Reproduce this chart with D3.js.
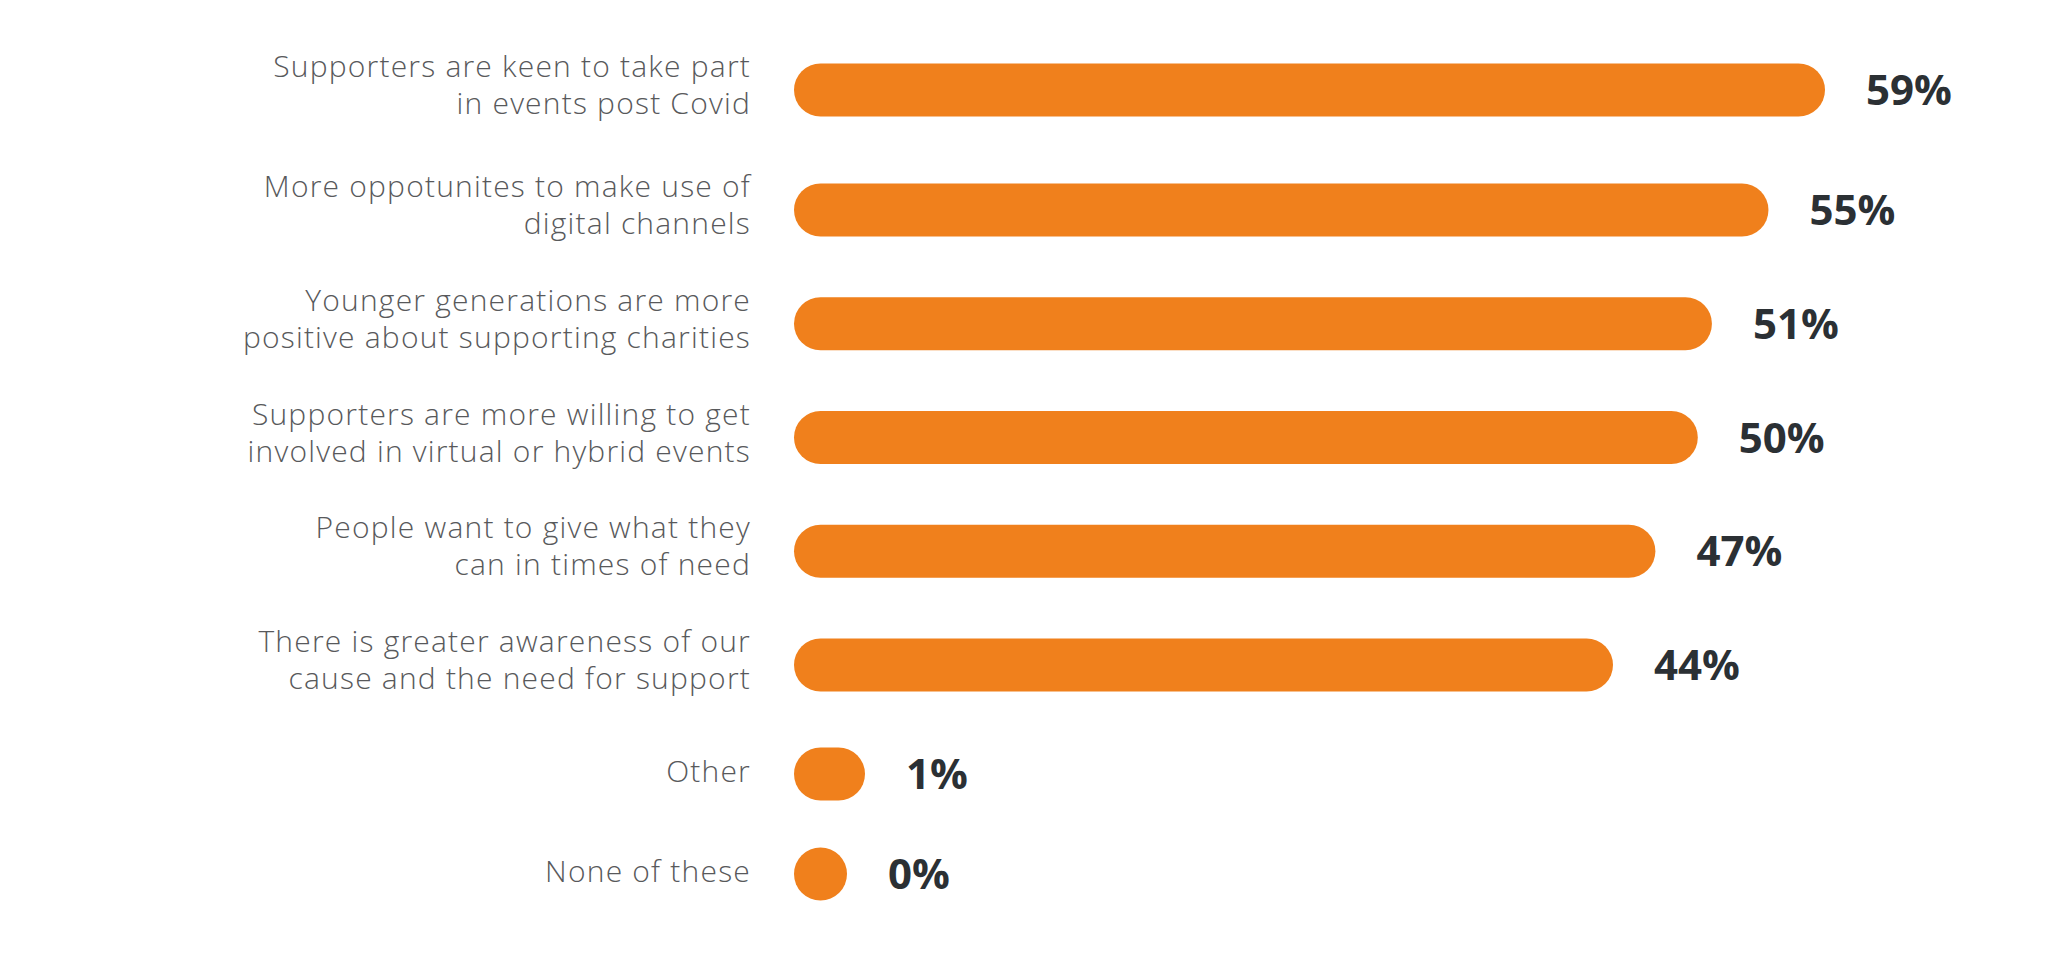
<!DOCTYPE html>
<html>
<head>
<meta charset="utf-8">
<script src="https://cdn.jsdelivr.net/npm/d3@7"></script>
<style>
  html, body { margin: 0; padding: 0; background: #fff; }
  svg { display: block; }
</style>
</head>
<body>
<div id="main"></div>
<script>
// chart data
const categories = [
    ['Supporters are keen to take part', 'in events post Covid'],
    ['More oppotunites to make use of', 'digital channels'],
    ['Younger generations are more', 'positive about supporting charities'],
    ['Supporters are more willing to get', 'involved in virtual or hybrid events'],
    ['People want to give what they', 'can in times of need'],
    ['There is greater awareness of our', 'cause and the need for support'],
    ['Other'],
    ['None of these']
]
const values = [59, 55, 51, 50, 47, 44, 1, 0]
const valueLabels = ['59%', '55%', '51%', '50%', '47%', '44%', '1%', '0%']

const width = 2048;
const height = 967;
const orange = '#f0801c';
const barH = 53;

const svg = d3.select('#main')
                .append('svg')
                .attr('width', width)
                .attr('height', height)

const idx = d3.range(values.length)

// rows are a bit tighter towards the bottom in the original
const y = d3.scaleLinear()
            .domain([0, 1, 5, 6, 7])
            .range([90, 210, 665, 774, 874])

// bar ends: the small bars are drawn as near-circles, so the scale bends near 0
const x = d3.scaleLinear()
            .domain([0, 1, 44, 59])
            .range([847, 865, 1613, 1825])
const xStart = 794;

svg.append('g')
    .selectAll('rect')
    .data(idx)
    .enter()
    .append('rect')
    .attr('x', xStart)
    .attr('y', (i) => y(i) - barH / 2)
    .attr('width', (i) => x(values[i]) - xStart)
    .attr('height', barH)
    .attr('rx', barH / 2)
    .attr('ry', barH / 2)
    .style('fill', orange)

svg.append('g')
    .selectAll('text')
    .data(idx)
    .enter()
    .append('text')
    .attr('x', (i) => x(values[i]) + 41)
    .attr('y', (i) => y(i) + 15)
    .style('font-family', '"Open Sans", Lato, sans-serif')
    .style('font-weight', 700)
    .style('font-size', '42px')
    .style('fill', '#2b3034')
    .text((i) => valueLabels[i])

let label = svg.append('g')
    .selectAll('text')
    .data(idx)
    .enter()
    .append('text')
    .attr('text-anchor', 'end')
    .style('font-family', '"Open Sans", Lato, sans-serif')
    .style('font-weight', 300)
    .style('font-size', '30px')
    .style('letter-spacing', '1.2px')
    .style('fill', '#58595b')

label.selectAll('tspan')
    .data((i) => categories[i].map((t, k) => ({ t, k, i, n: categories[i].length })))
    .enter()
    .append('tspan')
    .attr('x', 751)
    .attr('y', (d) => d.n === 1 ? y(d.i) + 8 : y(d.i) - 13 + 37 * d.k)
    .text((d) => d.t)
</script>
</body>
</html>
